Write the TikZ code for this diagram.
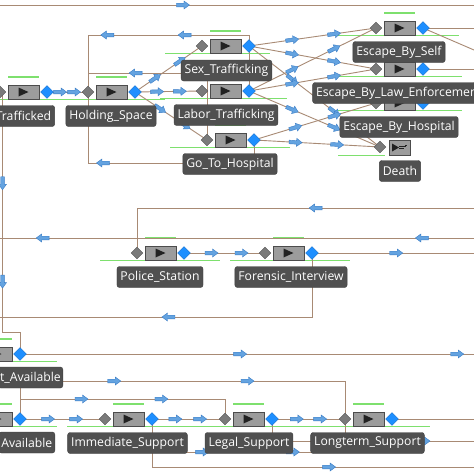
\documentclass[tikz,border=0pt]{standalone}
\usepackage{fontspec}
\newfontfamily\labfont{Open Sans}
\usetikzlibrary{shapes.geometric}
\pgfdeclarelayer{bg}
\pgfdeclarelayer{lab}
\pgfsetlayers{bg,main,lab}
\definecolor{linebrown}{HTML}{A88A74}
\definecolor{grn}{HTML}{7EE06E}
\definecolor{arrowfill}{HTML}{64A3E0}
\definecolor{arrowline}{HTML}{3A7DC6}
\definecolor{bluediam}{HTML}{1E8FFF}
\definecolor{graydiam}{HTML}{7A7A7A}
\definecolor{rectfill}{HTML}{9C9C9C}
\definecolor{labfill}{HTML}{505050}
\definecolor{playcol}{HTML}{222222}
\tikzset{
  conn/.style={draw=linebrown, line width=0.9pt},
  grline/.style={draw=grn, line width=1.1pt},
  indiam/.style={diamond, fill=graydiam, draw=graydiam!70!black, line width=0.4pt, minimum width=12pt, minimum height=12pt, inner sep=0pt},
  outdiam/.style={diamond, fill=bluediam, draw=bluediam!80!black, line width=0.4pt, minimum width=13pt, minimum height=13pt, inner sep=0pt},
  procbox/.style={rectangle, fill=rectfill, draw=black!70, line width=0.6pt, minimum width=31pt, minimum height=14pt, inner sep=0pt},
  labbox/.style={rectangle, rounded corners=2.5pt, fill=labfill, draw=labfill!80!black, text=white, font=\labfont\fontsize{12.2}{14}\selectfont, minimum height=21pt, inner xsep=3.5pt, inner ysep=0pt},
  arr/.style={sloped, allow upside down},
  flowR/.pic={\filldraw[fill=arrowfill, draw=arrowline, line width=0.4pt] (-6.5,-1.8) -- (1,-1.8) -- (1,-4) -- (6.5,0) -- (1,4) -- (1,1.8) -- (-6.5,1.8) -- cycle;}
}
\newcommand\simblock[5]{%
  \begin{pgfonlayer}{bg}
    \draw[grline] (#2,#3-15) -- (#2+31,#3-15);
    \draw[grline] (#4,#3+7.5) -- (#5,#3+7.5);
  \end{pgfonlayer}
  \node[indiam] (#1-in) at (#2-8,#3) {};
  \node[procbox] (#1) at (#2+15.5,#3) {};
  \fill[playcol] (#2+10.5,#3-4.5) -- (#2+20.5,#3) -- (#2+10.5,#3+4.5) -- cycle;
  \node[outdiam] (#1-out) at (#2+39,#3) {};
}
\newcommand\simlabel[4]{%
  \begin{pgfonlayer}{lab}\node[labbox] (#1-lab) at (#3,#4) {#2};\end{pgfonlayer}}
\begin{document}
\begin{tikzpicture}[x=1pt,y=-1pt]
\begin{pgfonlayer}{bg}
  \fill[white] (0,0) rectangle (474,474);
\end{pgfonlayer}
\useasboundingbox (0,0) rectangle (474,474);

% ---------- blocks ----------
\simblock{Traff}{8}{92}{-30}{80}
\simblock{Hold}{96}{92}{60}{165}
\simblock{Sex}{210}{46}{165}{270}
\simblock{Labor}{210}{91}{160}{287}
\simblock{GoHosp}{215}{140}{170}{290}
\simblock{Self}{384}{28}{334}{459}
\simblock{Law}{384}{69}{338}{462}
\simblock{EHosp}{384}{103}{338}{462}
\simblock{Police}{145}{253}{100}{220}
\simblock{Foren}{273}{253}{230}{350}
\simblock{UAvail}{-19}{354}{-60}{57}
\simblock{LAvail}{-19}{419}{-60}{57}
\simblock{Immed}{113}{419}{67}{190}
\simblock{Legal}{233}{419}{190}{343}
\simblock{Long}{353}{419}{300}{430}

% Death (sink)
\begin{pgfonlayer}{bg}
  \draw[grline] (338,155.5) -- (385,155.5);
\end{pgfonlayer}
\node[indiam] (Death-in) at (380,147) {};
\node[procbox, minimum width=21pt, minimum height=15pt] (Death) at (399.5,147.5) {};
\fill[playcol] (392,143.5) -- (399,147.5) -- (392,151.5) -- cycle;
\draw[playcol, line width=0.6pt] (399,146) -- (406,146) (399,148.5) -- (404,148.5) (405,145) -- (407,145);

% ---------- labels ----------
\simlabel{Traff}{Trafficked}{23.5}{116}
\simlabel{Hold}{Holding\_Space}{111}{116}
\simlabel{Sex}{Sex\_Trafficking}{226.5}{70.5}
\simlabel{Labor}{Labor\_Trafficking}{226}{115}
\simlabel{GoHosp}{Go\_To\_Hospital}{230}{164}
\simlabel{Self}{Escape\_By\_Self}{399}{52}
\simlabel{EHosp}{Escape\_By\_Hospital}{399}{127}
\simlabel{Law}{Escape\_By\_Law\_Enforcement}{399}{93}
\simlabel{Death}{Death}{400}{171}
\simlabel{Police}{Police\_Station}{160}{277}
\simlabel{Foren}{Forensic\_Interview}{291}{277}
\begin{pgfonlayer}{lab}
  \node[labbox, anchor=east, inner xsep=2pt] (UAvail-lab) at (63,377.5) {t\_Available};
  \node[labbox, anchor=east, inner xsep=2.5pt] (LAvail-lab) at (55,442.5) {Available};
\end{pgfonlayer}
\simlabel{Immed}{Immediate\_Support}{127.5}{443}
\simlabel{Legal}{Legal\_Support}{249}{443}
\simlabel{Long}{Longterm\_Support}{367.5}{443}

% ---------- free-end coordinates ----------
\coordinate (topL) at (0,5);      \coordinate (topR) at (474,5);
\coordinate (s35a) at (249,35);   \coordinate (s35b) at (88,35);
\coordinate (g73a) at (207,73);   \coordinate (g73b) at (88,73);
\coordinate (h163a) at (254,163); \coordinate (h163b) at (88,163);
\coordinate (selfR) at (474,28);  \coordinate (selfD) at (474,50);
\coordinate (lawR) at (474,69);   \coordinate (ehR) at (474,83);
\coordinate (lvTop) at (2.5,92);  \coordinate (lvBot) at (2.5,332);
\coordinate (ua332) at (20,332);
\coordinate (p208R) at (474,208); \coordinate (p208L) at (137,208);
\coordinate (m238R) at (474,238); \coordinate (m238L) at (0,238);
\coordinate (fR) at (474,253);
\coordinate (f317a) at (312,317); \coordinate (f317b) at (0,317);
\coordinate (uaR) at (474,354);
\coordinate (l381a) at (20,381);  \coordinate (l381b) at (345,381);
\coordinate (l399a) at (20,399);  \coordinate (l399b) at (225,399);
\coordinate (i452a) at (152,452); \coordinate (i452b) at (345,452);
\coordinate (i467a) at (152,467); \coordinate (i467b) at (474,467);
\coordinate (g441a) at (272,441); \coordinate (g441b) at (474,441);
\coordinate (longR) at (474,419);

% ---------- connectors ----------
\begin{pgfonlayer}{bg}
\draw[conn] (topL) -- pic[arr,pos=.386]{flowR} (topR);
\draw[conn] (Traff-out.center) -- pic[arr,pos=.32]{flowR} pic[arr,pos=.66]{flowR} (Hold-in.center);
\draw[conn] (Hold-out.center) -- pic[arr,pos=.30]{flowR} pic[arr,pos=.67]{flowR} (Sex-in.center);
\draw[conn] (Hold-out.center) -- pic[arr,pos=.33]{flowR} pic[arr,pos=.67]{flowR} (Labor-in.center);
\draw[conn] (Hold-out.center) -- pic[arr,pos=.35]{flowR} pic[arr,pos=.69]{flowR} (GoHosp-in.center);
\draw[conn] (Sex-out.center) -- pic[arr,pos=.34]{flowR} pic[arr,pos=.67]{flowR} (Self-in.center);
\draw[conn] (Sex-out.center) -- pic[arr,pos=.34]{flowR} pic[arr,pos=.67]{flowR} (Law-in.center);
\draw[conn] (Sex-out.center) -- pic[arr,pos=.33]{flowR} pic[arr,pos=.65]{flowR} (Death-in.center);
\draw[conn] (Labor-out.center) -- pic[arr,pos=.34]{flowR} pic[arr,pos=.67]{flowR} (Self-in.center);
\draw[conn] (Labor-out.center) -- pic[arr,pos=.34]{flowR} pic[arr,pos=.67]{flowR} (Law-in.center);
\draw[conn] (Labor-out.center) -- pic[arr,pos=.33]{flowR} pic[arr,pos=.65]{flowR} (Death-in.center);
\draw[conn] (GoHosp-out.center) -- pic[arr,pos=.34]{flowR} pic[arr,pos=.66]{flowR} (EHosp-in.center);
\draw[conn] (GoHosp-out.center) -- pic[arr,pos=.33]{flowR} pic[arr,pos=.66]{flowR} (Death-in.center);
\draw[conn] (Sex-out.center) -- (s35a) -- pic[arr,pos=.40]{flowR} pic[arr,pos=.88]{flowR} (s35b) -- (Hold-in.center);
\draw[conn] (Labor-out.center) -- (Sex-out.center);
\draw[conn] (GoHosp-in.center) -- (g73a) -- pic[arr,pos=.60]{flowR} (g73b) -- (Hold-in.center);
\draw[conn] (GoHosp-out.center) -- (h163a) -- pic[arr,pos=.91]{flowR} (h163b) -- (Hold-in.center);
\draw[conn] (Self-out.center) -- (selfR);
\draw[conn] (Self-out.center) -- (selfD);
\draw[conn] (Law-out.center) -- (lawR);
\draw[conn] (EHosp-out.center) -- (ehR);
\draw[conn] (Traff-in.center) -- (lvTop) -- pic[arr,pos=.38]{flowR} pic[arr,pos=.79]{flowR} (lvBot) -- (ua332) -- (UAvail-out.center);
\draw[conn] (p208R) -- pic[arr,pos=.47]{flowR} (p208L) -- (Police-in.center);
\draw[conn] (m238R) -- pic[arr,pos=.11]{flowR} pic[arr,pos=.91]{flowR} (m238L);
\draw[conn] (Police-out.center) -- pic[arr,pos=.34]{flowR} pic[arr,pos=.71]{flowR} (Foren-in.center);
\draw[conn] (Foren-out.center) -- pic[arr,pos=.52]{flowR} (fR);
\draw[conn] (Foren-out.center) -- (f317a) -- pic[arr,pos=.46]{flowR} (f317b);
\draw[conn] (UAvail-out.center) -- pic[arr,pos=.485]{flowR} pic[arr,pos=.963]{flowR} (uaR);
\draw[conn] (LAvail-out.center) -- (l381a) -- pic[arr,pos=.29]{flowR} pic[arr,pos=.70]{flowR} (l381b) -- (Long-in.center);
\draw[conn] (LAvail-out.center) -- (l399a) -- pic[arr,pos=.30]{flowR} pic[arr,pos=.69]{flowR} (l399b) -- (Legal-in.center);
\draw[conn] (LAvail-out.center) -- pic[arr,pos=.33]{flowR} pic[arr,pos=.66]{flowR} (Immed-in.center);
\draw[conn] (Immed-out.center) -- pic[arr,pos=.32]{flowR} pic[arr,pos=.66]{flowR} (Legal-in.center);
\draw[conn] (Immed-out.center) -- (i452a) -- pic[arr,pos=.26]{flowR} pic[arr,pos=.73]{flowR} (i452b) -- (Long-in.center);
\draw[conn] (Immed-out.center) -- (i467a) -- pic[arr,pos=.55]{flowR} (i467b);
\draw[conn] (Legal-out.center) -- pic[arr,pos=.34]{flowR} pic[arr,pos=.66]{flowR} (Long-in.center);
\draw[conn] (Legal-out.center) -- (g441a) -- pic[arr,pos=.75]{flowR} (g441b);
\draw[conn] (Long-out.center) -- (longR);
\end{pgfonlayer}
\end{tikzpicture}
\end{document}
